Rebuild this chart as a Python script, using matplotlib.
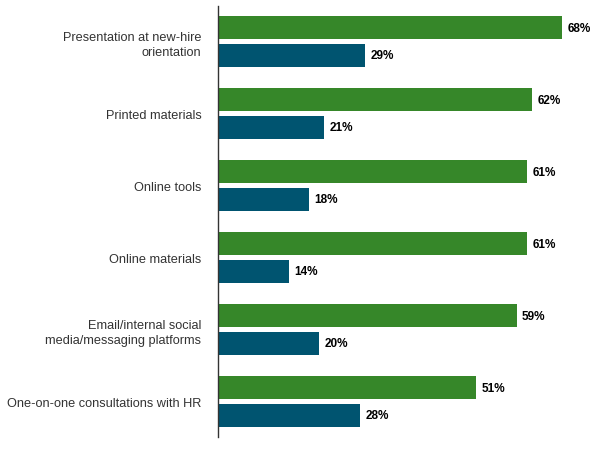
import numpy as np
import matplotlib.pyplot as plt

categories = ['Presentation at new-hire\norientation',
              'Printed materials',
              'Online tools',
              'Online materials',
              'Email/internal social\nmedia/messaging platforms',
              'One-on-one consultations with HR']
green_vals = [68, 62, 61, 61, 59, 51]
teal_vals = [29, 21, 18, 14, 20, 28]

green = '#368729'
teal = '#005470'

plt.rcParams['font.family'] = ['Liberation Sans', 'DejaVu Sans']

fig = plt.figure(figsize=(5.98, 4.52), dpi=100)
ax = fig.add_axes([218 / 598, 14 / 452, 380 / 598, 431 / 452])

y = np.arange(len(categories))
off = 0.194
h = 0.32
ax.barh(y - off, green_vals, height=h, color=green)
ax.barh(y + off, teal_vals, height=h, color=teal)

for yi, v in zip(y - off, green_vals):
    ax.text(v + 1.1, yi, f'{v}%', va='center', ha='left',
            fontsize=8.5, fontweight='bold', color='black')
for yi, v in zip(y + off, teal_vals):
    ax.text(v + 1.1, yi, f'{v}%', va='center', ha='left',
            fontsize=8.5, fontweight='bold', color='black')

ax.set_xlim(0, 380 / 5.06)
ax.set_ylim(len(categories) - 1 + 0.493, -0.493)
ax.set_yticks(y)
ax.set_yticklabels(categories, fontsize=9.2, color='#333333', linespacing=1.35)
ax.tick_params(axis='y', length=0, pad=12)
ax.set_xticks([])
for s in ['top', 'right', 'bottom']:
    ax.spines[s].set_visible(False)
ax.spines['left'].set_color('#333333')
ax.spines['left'].set_linewidth(1)

fig.savefig('out.png', dpi=100)
